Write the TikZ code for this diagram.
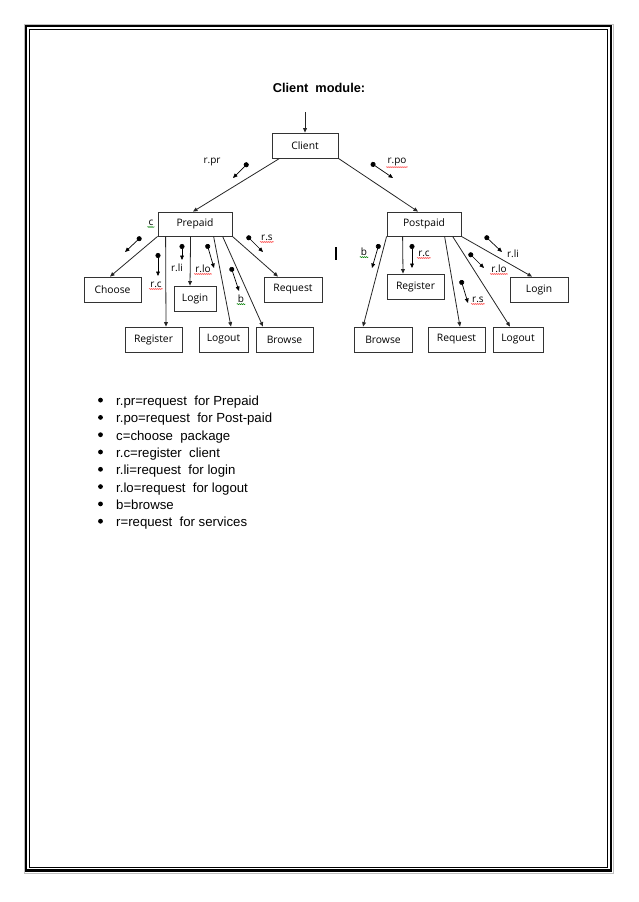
\documentclass[tikz,border=0pt]{standalone}
\usepackage{fontspec}
\setmainfont{Liberation Sans}
\newfontfamily\handfont{Open Sans}
\usetikzlibrary{arrows.meta,decorations.pathmorphing}

\begin{document}
\begin{tikzpicture}[x=1pt, y=-1pt, >={Triangle[length=4.5pt,width=3.8pt]}]
\tikzstyle{box} = [draw=black!80, line width=0.8pt, minimum height=25pt, inner sep=1pt, font=\handfont\fontsize{10.3}{11}\selectfont]
\tikzstyle{link} = [->, line width=0.8pt, black!85]
\tikzstyle{msg} = [{Circle[length=5pt]}->, line width=0.7pt]
\tikzstyle{tag} = [inner sep=1pt, font=\handfont\fontsize{10}{11}\selectfont]
\tikzstyle{wave} = [draw, line width=0.5pt, decorate, decoration={snake, amplitude=0.5pt, segment length=2pt}]
\tikzstyle{redwave} = [append after command={(\tikzlastnode.south west) edge[wave, red!75] (\tikzlastnode.south east)}]
\tikzstyle{greenwave} = [append after command={(\tikzlastnode.south west) edge[wave, green!50!black] (\tikzlastnode.south east)}]
\tikzstyle{listitem} = [anchor=base west, inner sep=0pt, font=\fontsize{13.2}{15}\selectfont]
\tikzstyle{bullet} = [circle, fill, inner sep=0pt, minimum size=4.8pt]

\useasboundingbox (0,0) rectangle (638,902);

% page frame
\draw[gray!50, line width=0.5pt] (24.3,24.3) rectangle (613,873.5);
\draw[line width=2.5pt] (26,26) rectangle (611,870.5);
\draw[line width=0.8pt] (29.5,29.5) rectangle (607.5,867);

\node[font=\bfseries\fontsize{12.8}{14}\selectfont] (title) at (319,88) {Client\ \ module:};

% boxes
\node[box, minimum width=66pt] (client) at (305,145.5) {Client};
\node[box, minimum width=74pt, minimum height=24pt] (prepaid) at (195,224) {Prepaid};
\node[box, minimum width=74pt, minimum height=24pt] (postpaid) at (424,224) {Postpaid};

\node[box, minimum width=57pt] (choose) at (112.5,289.5) {Choose};
\node[box, minimum width=57pt] (preReg) at (153.5,339.5) {Register};
\node[box, minimum width=42pt] (preLogin) at (195,298.5) {Login};
\node[box, minimum width=49pt] (preLogout) at (223.5,339.5) {Logout};
\node[box, minimum width=57pt] (preBrowse) at (284.5,339.5) {Browse};
\node[box, minimum width=58pt] (preRequest) at (293,289.5) {Request};

\node[box, minimum width=58pt] (postBrowse) at (383,339.5) {Browse};
\node[box, minimum width=57pt] (postReg) at (415.5,286.5) {Register};
\node[box, minimum width=57pt] (postRequest) at (456.5,339.5) {Request};
\node[box, minimum width=50pt] (postLogout) at (518,339.5) {Logout};
\node[box, minimum width=58pt] (postLogin) at (539,289.5) {Login};

% links
\coordinate (entry) at (305,112);
\draw[link] (entry) -- (client.north);
\draw[link] ([xshift=8pt]client.south west) -- ([xshift=-2pt]prepaid.north);
\draw[link] (client.south east) -- ([xshift=-6pt]postpaid.north);

\draw[link] (prepaid.south west) -- ([xshift=-2.5pt]choose.north);
\draw[link] ([xshift=8pt]prepaid.south west) -- ([xshift=12.5pt]preReg.north);
\draw[link] ([xshift=33pt]prepaid.south west) -- ([xshift=-5pt]preLogin.north);
\draw[link] ([xshift=56pt]prepaid.south west) -- ([xshift=7.5pt]preLogout.north);
\draw[link] ([xshift=65pt]prepaid.south west) -- ([xshift=-21.5pt]preBrowse.north);
\draw[link] (prepaid.south east) -- ([xshift=-15pt]preRequest.north);

\draw[link] (postpaid.south west) -- ([xshift=-20pt]postBrowse.north);
\draw[link] ([xshift=16pt]postpaid.south west) -- ([xshift=-12.5pt]postReg.north);
\draw[link] ([xshift=58pt]postpaid.south west) -- ([xshift=3.5pt]postRequest.north);
\draw[link] ([xshift=66pt]postpaid.south west) -- ([xshift=-8pt]postLogout.north);
\draw[link] (postpaid.south east) -- ([xshift=-7pt]postLogin.north);

% messages
\foreach \nm/\xa/\ya/\xb/\yb in {pr/248/163/233/178, po/371/163/393/178,
  c/141/237/125/252, rcA/158/253/158/276, liA/182/244/182/260, loA/207/244/214/268,
  bA/231/267/239/291, rsA/247/236/263/252,
  bB/379/244/372/268, rcB/412/244/412/268, rsB/461/280/468/303,
  loB/469/253/484/268, liB/485/236/502/252} {
  \coordinate (\nm-a) at (\xa,\ya);
  \coordinate (\nm-b) at (\xb,\yb);
  \draw[msg] (\nm-a) -- (\nm-b);
}

\node[tag] (prTag) at (212,162) {r.pr};
\node[tag, redwave] (poTag) at (397,162) {r.po};
\node[tag, greenwave] (cTag) at (151,223) {c};
\node[tag, redwave] (rcTagA) at (156,285) {r.c};
\node[tag] (liTagA) at (177,268) {r.li};
\node[tag, redwave] (loTagA) at (203,269) {r.lo};
\node[tag, greenwave] (bTagA) at (241,299) {b};
\node[tag, redwave] (rsTagA) at (267,238) {r.s};
\node[tag, greenwave] (bTagB) at (364,252) {b};
\node[tag, redwave] (rcTagB) at (424,254) {r.c};
\node[tag, redwave] (rsTagB) at (478,300) {r.s};
\node[tag, redwave] (loTagB) at (499,269) {r.lo};
\node[tag] (liTagB) at (513,254) {r.li};

\draw[line width=1.2pt] (336,247) -- (336,260);

% key
\foreach \txt [count=\i] in {r.pr=request\ \ for Prepaid, r.po=request\ \ for Post-paid,
  c=choose\ \ package, r.c=register\ \ client, r.li=request\ \ for login,
  r.lo=request\ \ for logout, b=browse, r=request\ \ for services} {
  \node[listitem] (item\i) at (116,388.2+17.3*\i) {\txt};
  \node[bullet] (dot\i) at (100.5,382.8+17.3*\i) {};
}
\end{tikzpicture}
\end{document}
